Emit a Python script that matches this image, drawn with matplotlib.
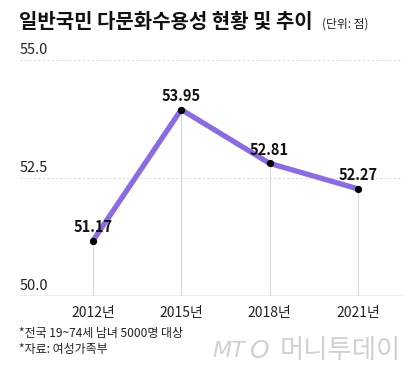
import matplotlib.pyplot as plt
from matplotlib.transforms import offset_copy

plt.rcParams['font.family'] = ['Noto Sans CJK KR', 'DejaVu Sans']

# data
years = ['2012년', '2015년', '2018년', '2021년']
scores = [51.17, 53.95, 52.81, 52.27]
y_ticks = [50.0, 52.5, 55.0]

fig = plt.figure(figsize=(4.2, 3.76), dpi=100)
ax = fig.add_axes([20 / 420, 1 - 296 / 376, 383 / 420, 236 / 376])
x = list(range(len(years)))

ax.set_xlim(-0.825, 3.51)
ax.set_ylim(50, 55)

# horizontal grid (dashed) + labels above
for t in y_ticks:
    if t == 50.0:
        ax.axhline(t, color='#a8a8a8', lw=1.0, zorder=1)
    else:
        ax.axhline(t, color='#dcdcdc', lw=0.8, ls=(0, (2, 2)), zorder=1)
    ax.text(0, t, f'{t:.1f}', transform=offset_copy(ax.get_yaxis_transform(), fig=fig, x=0, y=2, units='points'),
            ha='left', va='bottom', fontsize=10.5, color='#222222')

# vertical lines from each point down to baseline
for xi, v in zip(x, scores):
    ax.plot([xi, xi], [50, v], color='#d8d8d8', lw=0.8, zorder=1)

ax.plot(x, scores, color='#8b6ae6', lw=3.8, solid_capstyle='butt', zorder=3)
ax.scatter(x, scores, s=18, color='black', zorder=4)

for xi, v in zip(x, scores):
    ax.annotate(f'{v:.2f}', (xi, v), xytext=(0, 4), textcoords='offset points',
                ha='center', va='bottom', fontsize=10.5, fontweight='bold', color='#111111', zorder=5)

ax.set_xticks(x)
ax.set_xticklabels(years, fontsize=10, color='#222222')
ax.tick_params(axis='x', length=0, pad=7)
ax.set_yticks([])
for s in ax.spines.values():
    s.set_visible(False)

# title
fig.text(19 / 420, 1 - 22 / 376, '일반국민 다문화수용성 현황 및 추이', fontsize=14.4, fontweight='bold',
         ha='left', va='center', color='#111111')
fig.text(322 / 420, 1 - 24 / 376, '(단위: 점)', fontsize=8.5, ha='left', va='center', color='#222222')

# footnotes
fig.text(19 / 420, 1 - 333 / 376, '*전국 19~74세 남녀 5000명 대상', fontsize=8.6, ha='left', va='center', color='#222222')
fig.text(19 / 420, 1 - 349 / 376, '*자료: 여성가족부', fontsize=8.6, ha='left', va='center', color='#222222')

# logo
fig.text(212 / 420, 1 - 351 / 376, 'MT', fontsize=16, style='italic', ha='left', va='center',
         color='#d0d0d0', family='DejaVu Sans')
fig.text(250 / 420, 1 - 351 / 376, 'O', fontsize=18, style='italic', ha='left', va='center',
         color='#d0d0d0', family='DejaVu Sans')
fig.text(280 / 420, 1 - 351 / 376, '머니투데이', fontsize=19, fontweight='light', ha='left', va='center',
         color='#d0d0d0')

fig.savefig('out.png', dpi=100)
